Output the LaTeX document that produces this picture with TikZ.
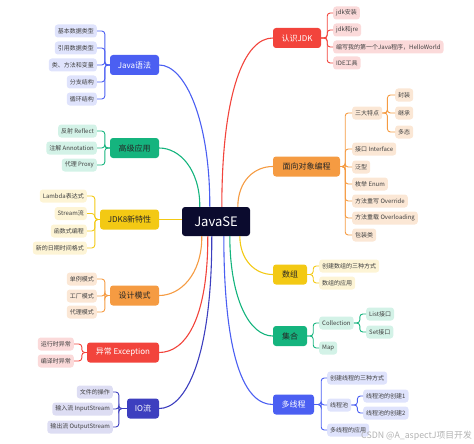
\documentclass[tikz,border=0pt]{standalone}
\usepackage{fontspec}
\setmainfont{Noto Sans CJK SC}
\usetikzlibrary{calc}
\definecolor{cNavy}{HTML}{0B0B2E}
\definecolor{cBlue}{HTML}{4B5FF2}
\definecolor{cBlueL}{HTML}{DFE3FC}
\definecolor{cIndigo}{HTML}{3D3FBF}
\definecolor{cIndigoL}{HTML}{DDDDF3}
\definecolor{cGreen}{HTML}{15B47E}
\definecolor{cGreenL}{HTML}{D3F2E7}
\definecolor{cYellow}{HTML}{F3C914}
\definecolor{cYellowL}{HTML}{FDF4D5}
\definecolor{cOrange}{HTML}{F59B42}
\definecolor{cOrangeL}{HTML}{FBE7D5}
\definecolor{cRed}{HTML}{F2443C}
\definecolor{cRedL}{HTML}{FBDADA}
\tikzset{
  mainnode/.style={rounded corners=3pt, minimum height=20pt, inner sep=0pt,
    font=\fontsize{8}{8}\selectfont, text=white},
  darktext/.style={text=black!85},
  leaf/.style={rounded corners=3pt, minimum height=13pt, inner xsep=3pt, inner ysep=0pt,
    font=\fontsize{6}{6}\selectfont, text=black!75},
  lleaf/.style={leaf, anchor=east},
  rleaf/.style={leaf, anchor=west},
  link/.style={line width=1.1pt},
  brk/.style={line width=0.9pt, rounded corners=3pt},
}
\begin{document}
\begin{tikzpicture}[x=1pt,y=-1pt]
\useasboundingbox (0,0) rectangle (474,444);

% ---- main nodes ----
\node[mainnode, fill=cNavy, minimum width=68pt, minimum height=29pt,
  font=\fontsize{13}{13}\selectfont] (root) at (216,221.5) {JavaSE};

\node[mainnode, fill=cBlue, minimum width=49pt] (jy) at (134.5,65) {Java语法};
\node[mainnode, fill=cGreen, darktext, minimum width=49pt] (gj) at (134.5,148) {高级应用};
\node[mainnode, fill=cYellow, darktext, minimum width=59pt] (jdk8) at (129.5,219.5) {JDK8新特性};
\node[mainnode, fill=cOrange, darktext, minimum width=49pt] (sj) at (134.5,295.5) {设计模式};
\node[mainnode, fill=cRed, minimum width=72pt] (yc) at (123,352.5) {异常 Exception};
\node[mainnode, fill=cIndigo, minimum width=32pt] (io) at (143,408.5) {IO流};

\node[mainnode, fill=cRed, minimum width=48pt] (rs) at (297,38) {认识JDK};
\node[mainnode, fill=cOrange, darktext, minimum width=67pt] (mx) at (306.5,166.5) {面向对象编程};
\node[mainnode, fill=cYellow, darktext, minimum width=34pt] (sz) at (290,274.5) {数组};
\node[mainnode, fill=cGreen, darktext, minimum width=34pt] (jh) at (290,336) {集合};
\node[mainnode, fill=cBlue, minimum width=41pt] (dx) at (293.5,404.5) {多线程};

% ---- main connectors ----
\coordinate (t1) at ($(root.north west)+(18,0)$);
\coordinate (t2) at ($(root.north west)+(28,0)$);
\coordinate (t3) at ($(root.north west)+(40,0)$);
\coordinate (t4) at ($(root.north west)+(56,0)$);
\coordinate (b1) at ($(root.south west)+(20,0)$);
\coordinate (b2) at ($(root.south west)+(26,0)$);
\coordinate (b3) at ($(root.south west)+(30,0)$);
\coordinate (b4) at ($(root.south west)+(42,0)$);
\coordinate (b5) at ($(root.south west)+(48,0)$);
\coordinate (b6) at ($(root.south west)+(58,0)$);

\draw[link, cBlue] (t2) .. controls (210,120) and (185,65) .. (jy.east);
\draw[link, cGreen] (t1) .. controls (200,170) and (180,148) .. (gj.east);
\draw[link, cRed] (t3) .. controls (222,90) and (245,38) .. (rs.west);
\draw[link, cOrange] (t4) .. controls (238,180) and (255,166.5) .. (mx.west);
\draw[link, cYellow] (jdk8.east) -- (jdk8.east -| root.west);
\draw[link, cOrange] (b1) .. controls (202,275) and (180,295.5) .. (sj.east);
\draw[link, cRed] (b2) .. controls (208,320) and (185,352.5) .. (yc.east);
\draw[link, cIndigo] (b3) .. controls (212,360) and (185,408.5) .. (io.east);
\draw[link, cYellow] (b6) .. controls (240,260) and (255,274.5) .. (sz.west);
\draw[link, cGreen] (b5) .. controls (230,300) and (250,336) .. (jh.west);
\draw[link, cBlue] (b4) .. controls (224,360) and (245,404.5) .. (dx.west);

% ---- left leaves ----
\node[lleaf, fill=cBlueL] (jy1) at (97,31) {基本数据类型};
\node[lleaf, fill=cBlueL] (jy2) at (97,48) {引用数据类型};
\node[lleaf, fill=cBlueL] (jy3) at (97,65) {类、方法和变量};
\node[lleaf, fill=cBlueL] (jy4) at (97,82) {分支结构};
\node[lleaf, fill=cBlueL] (jy5) at (97,99) {循环结构};
\foreach \c in {jy1,jy2,jy3,jy4,jy5}
  \draw[brk, cBlue] (jy.west) -- ++(-5,0) |- (\c.east);

\node[lleaf, fill=cGreenL] (gj1) at (97,131) {反射 Reflect};
\node[lleaf, fill=cGreenL] (gj2) at (97,148) {注解 Annotation};
\node[lleaf, fill=cGreenL] (gj3) at (97,165) {代理 Proxy};
\foreach \c in {gj1,gj2,gj3}
  \draw[brk, cGreen] (gj.west) -- ++(-5,0) |- (\c.east);

\node[lleaf, fill=cYellowL] (j81) at (87,196) {Lambda表达式};
\node[lleaf, fill=cYellowL] (j82) at (87,213.5) {Stream流};
\node[lleaf, fill=cYellowL] (j83) at (87,231) {函数式编程};
\node[lleaf, fill=cYellowL] (j84) at (87,248) {新的日期时间格式};
\foreach \c in {j81,j82,j83,j84}
  \draw[brk, cYellow] (jdk8.west) -- ++(-5,0) |- (\c.east);

\node[lleaf, fill=cOrangeL] (sj1) at (97,279) {单例模式};
\node[lleaf, fill=cOrangeL] (sj2) at (97,296) {工厂模式};
\node[lleaf, fill=cOrangeL] (sj3) at (97,312) {代理模式};
\foreach \c in {sj1,sj2,sj3}
  \draw[brk, cOrange] (sj.west) -- ++(-5,0) |- (\c.east);

\node[lleaf, fill=cRedL] (yc1) at (74,344) {运行时异常};
\node[lleaf, fill=cRedL] (yc2) at (74,361) {编译时异常};
\foreach \c in {yc1,yc2}
  \draw[brk, cRed] (yc.west) -- ++(-5,0) |- (\c.east);

\node[lleaf, fill=cIndigoL] (io1) at (113,392) {文件的操作};
\node[lleaf, fill=cIndigoL] (io2) at (113,409) {输入流 InputStream};
\node[lleaf, fill=cIndigoL] (io3) at (113,427) {输出流 OutputStream};
\foreach \c in {io1,io2,io3}
  \draw[brk, cIndigo] (io.west) -- ++(-8,0) |- (\c.east);

% ---- right leaves ----
\node[rleaf, fill=cRedL] (rs1) at (333,13) {jdk安装};
\node[rleaf, fill=cRedL] (rs2) at (333,30) {jdk和jre};
\node[rleaf, fill=cRedL] (rs3) at (333,47) {编写我的第一个Java程序，HelloWorld};
\node[rleaf, fill=cRedL] (rs4) at (333,63) {IDE工具};
\foreach \c in {rs1,rs2,rs3,rs4}
  \draw[brk, cRed] (rs.east) -- ++(6,0) |- (\c.west);

\node[rleaf, fill=cOrangeL] (mx1) at (352,113) {三大特点};
\node[rleaf, fill=cOrangeL] (mx2) at (352,149) {接口 Interface};
\node[rleaf, fill=cOrangeL] (mx3) at (352,167) {泛型};
\node[rleaf, fill=cOrangeL] (mx4) at (352,184) {枚举 Enum};
\node[rleaf, fill=cOrangeL] (mx5) at (352,201) {方法重写 Override};
\node[rleaf, fill=cOrangeL] (mx6) at (352,218) {方法重载 Overloading};
\node[rleaf, fill=cOrangeL] (mx7) at (352,235) {包装类};
\foreach \c in {mx1,mx2,mx3,mx4,mx5,mx6,mx7}
  \draw[brk, cOrange] (mx.east) -- ++(5,0) |- (\c.west);

\node[rleaf, fill=cOrangeL] (td1) at (395,95) {封装};
\node[rleaf, fill=cOrangeL] (td2) at (395,113) {继承};
\node[rleaf, fill=cOrangeL] (td3) at (395,132) {多态};
\foreach \c in {td1,td2,td3}
  \draw[brk, cOrange] (mx1.east) -- ++(5,0) |- (\c.west);

\node[rleaf, fill=cYellowL] (sz1) at (319,266) {创建数组的三种方式};
\node[rleaf, fill=cYellowL] (sz2) at (319,283) {数组的应用};
\foreach \c in {sz1,sz2}
  \draw[brk, cYellow] (sz.east) -- ++(6,0) |- (\c.west);

\node[rleaf, fill=cGreenL] (jh1) at (319,323) {Collection};
\node[rleaf, fill=cGreenL] (jh2) at (319,348) {Map};
\foreach \c in {jh1,jh2}
  \draw[brk, cGreen] (jh.east) -- ++(6,0) |- (\c.west);

\node[rleaf, fill=cGreenL] (co1) at (366,314) {List接口};
\node[rleaf, fill=cGreenL] (co2) at (366,332) {Set接口};
\foreach \c in {co1,co2}
  \draw[brk, cGreen] (jh1.east) -- ++(6,0) |- (\c.west);

\node[rleaf, fill=cBlueL] (dx1) at (327,378) {创建线程的三种方式};
\node[rleaf, fill=cBlueL] (dx2) at (327,405) {线程池};
\node[rleaf, fill=cBlueL] (dx3) at (327,430) {多线程的应用};
\foreach \c in {dx1,dx2,dx3}
  \draw[brk, cBlue] (dx.east) -- ++(7,0) |- (\c.west);

\node[rleaf, fill=cBlueL] (xc1) at (363,396) {线程池的创建1};
\node[rleaf, fill=cBlueL] (xc2) at (363,413) {线程池的创建2};
\foreach \c in {xc1,xc2}
  \draw[brk, cBlue] (dx2.east) -- ++(6,0) |- (\c.west);

% ---- watermark ----
\node[anchor=east, inner sep=0pt, text=black!30, font=\fontsize{8.8}{9}\selectfont]
  (wm) at (472,436) {CSDN @A\_aspectJ项目开发};
\end{tikzpicture}
\end{document}
